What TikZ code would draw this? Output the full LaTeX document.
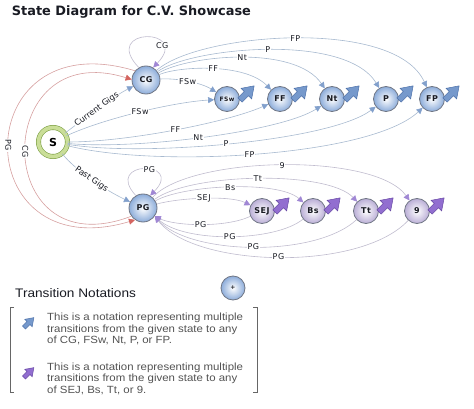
\documentclass[tikz,border=0pt]{standalone}
\usepackage{fontspec}
\setmainfont{DejaVu Sans}
\newfontfamily\lblfont[LetterSpace=6]{DejaVu Sans}
\newfontfamily\legfont[FakeStretch=1.1]{Liberation Sans}
\usetikzlibrary{arrows.meta,calc}
\definecolor{edgeblue}{RGB}{168,186,208}
\definecolor{tipblue}{RGB}{130,160,204}
\definecolor{edgepurp}{RGB}{192,188,206}
\definecolor{tippurp}{RGB}{160,135,212}
\definecolor{edgered}{RGB}{214,160,160}
\definecolor{tipred}{RGB}{212,100,95}
\definecolor{nodeblue}{RGB}{140,172,218}
\definecolor{nodepurp}{RGB}{186,174,214}
\definecolor{nodeline}{RGB}{112,118,132}
\definecolor{ringgreen}{RGB}{202,222,152}
\definecolor{darkgreen}{RGB}{125,160,70}
\definecolor{iconblue}{RGB}{118,153,204}
\definecolor{iconblueline}{RGB}{80,115,170}
\definecolor{iconpurp}{RGB}{146,110,208}
\definecolor{iconpurpline}{RGB}{105,75,165}
\definecolor{txt}{RGB}{25,27,35}
\tikzset{
  stbase/.style={circle, draw=nodeline, line width=0.8pt, inner sep=0pt,
    font=\lblfont\bfseries\fontsize{8}{9}\selectfont, text=txt},
  bstate/.style={stbase, inner color=white, outer color=nodeblue, minimum size=25pt},
  pstate/.style={stbase, inner color=white, outer color=nodepurp, minimum size=25pt},
  bigstate/.style={bstate, minimum size=28pt},
  snode/.style={circle, minimum size=29pt, inner sep=0pt, fill=white, draw=darkgreen,
    double=ringgreen, double distance=3.8pt, line width=0.6pt,
    font=\bfseries\fontsize{11}{12}\selectfont, text=black},
  lbl/.style={font=\lblfont\fontsize{8}{9}\selectfont, fill=white, inner sep=0.8pt, text=txt},
  slbl/.style={font=\fontsize{8.3}{9}\selectfont, fill=white, inner sep=0.8pt, text=txt, sloped},
  bedge/.style={draw=edgeblue, line width=0.6pt, -{Triangle[length=6pt,width=6pt,color=tipblue]}},
  pedge/.style={draw=edgepurp, line width=0.6pt, -{Triangle[length=6pt,width=6pt,color=tippurp]}},
  redge/.style={draw=edgered, line width=0.6pt, -{Triangle[length=6pt,width=6pt,color=tipred]}},
  fatarrow/.pic={\path[line width=0.5pt, pic actions] (0,-3)--(9,-3)--(9,-7.5)--(20,0)--(9,7.5)--(9,3)--(0,3)--cycle;},
  bicon/.style={rotate=45, fill=iconblue, draw=iconblueline},
  picon/.style={rotate=45, fill=iconpurp, draw=iconpurpline},
  legtext/.style={anchor=north west, inner sep=0pt, align=left, font=\legfont\fontsize{10.4}{11.8}\selectfont, text=black!68},
}
\begin{document}
\begin{tikzpicture}[x=1pt,y=-1pt]
\useasboundingbox (0,0) rectangle (474,409);
% title
\node[anchor=west, inner sep=0pt, font=\bfseries\fontsize{12.9}{14}\selectfont, text=txt] (title) at (11.7,12) {State Diagram for C.V. Showcase};
% states
\node[bigstate] (CG) at (146,80) {CG};
\node[bstate] (FSw) at (227,99) {\fontsize{6}{7}\selectfont FSw};
\node[bstate] (FF) at (280,99) {FF};
\node[bstate] (Nt) at (332,99) {Nt};
\node[bstate] (P) at (386,99) {P};
\node[bstate] (FP) at (432,99) {FP};
\node[snode] (S) at (53,142) {S};
\node[bigstate] (PG) at (143,208) {PG};
\node[pstate] (SEJ) at (262,211) {SEJ};
\node[pstate] (Bs) at (313,211) {Bs};
\node[pstate] (Tt) at (366,211) {Tt};
\node[pstate] (N9) at (417,211) {9};
\node[bstate, minimum size=24pt, font=\bfseries\fontsize{6}{7}\selectfont] (plus) at (233,288) {+};
% icons
\foreach \n in {FSw,FF,Nt,P,FP} { \pic[bicon] at ($(\n)+(13,1)$) {fatarrow}; }
\foreach \n in {SEJ,Bs,Tt,N9} { \pic[picon] at ($(\n)+(13,1)$) {fatarrow}; }
% S edges
\draw[bedge] (S) .. controls (80,122) and (112,97) .. (CG) node[slbl, pos=.5] {Current Gigs};
\draw[bedge] (S) .. controls (75,170) and (105,190) .. (PG) node[slbl, pos=.5] {Past Gigs};
\draw[bedge] (S) .. controls (105,118) and (175,102) .. (FSw) node[lbl, pos=.5] {FSw};
\draw[bedge] (S) .. controls (128,142) and (228,122) .. (FF) node[lbl, pos=.5] {FF};
\draw[bedge] (S) .. controls (135,150) and (280,132) .. (Nt) node[lbl, pos=.48] {Nt};
\draw[bedge] (S) .. controls (145,157) and (330,141) .. (P) node[lbl, pos=.48] {P};
\draw[bedge] (S) .. controls (155,168) and (370,157) .. (FP) node[lbl, pos=.48] {FP};
% CG edges
\draw[bedge] (CG) .. controls (175,78) and (200,82) .. (FSw) node[lbl, pos=.5] {FSw};
\draw[bedge] (CG) .. controls (180,66) and (245,63) .. (FF) node[lbl, pos=.5] {FF};
\draw[bedge] (CG) .. controls (190,55) and (295,45) .. (Nt) node[lbl, pos=.5] {Nt};
\draw[bedge] (CG) .. controls (190,48) and (345,32) .. (P) node[lbl, pos=.5] {P};
\draw[bedge] (CG) .. controls (198,33) and (395,17) .. (FP) node[lbl, pos=.5] {FP};
\draw[pedge] (CG.120) .. controls (100,27) and (192,27) .. (CG.60) node[lbl, pos=.76] {CG};
% red arcs
\draw[redge] (CG.140) .. controls (-34,20) and (-34,270) .. (PG.236) node[lbl, pos=.5, rotate=-90] {PG};
\draw[redge] (PG.215) .. controls (-10,270) and (-10,35) .. (CG.178) node[lbl, pos=.5, rotate=-90] {CG};
% PG edges
\draw[pedge] (PG.120) .. controls (103,160) and (185,160) .. (PG.60) node[lbl, pos=.58] {PG};
\draw[pedge] (PG) .. controls (178,198) and (230,195) .. (SEJ) node[lbl, pos=.5] {SEJ};
\draw[pedge] (PG) .. controls (183,185) and (278,180) .. (Bs) node[lbl, pos=.5] {Bs};
\draw[pedge] (PG) .. controls (190,173) and (327,170) .. (Tt) node[lbl, pos=.5] {Tt};
\draw[pedge] (PG) .. controls (190,156) and (375,152) .. (N9) node[lbl, pos=.5] {9};
\draw[pedge] (SEJ) .. controls (225,228) and (175,226) .. (PG.-35) node[lbl, pos=.5] {PG};
\draw[pedge] (Bs) .. controls (275,242) and (185,243) .. (PG.-35) node[lbl, pos=.5] {PG};
\draw[pedge] (Tt) .. controls (315,258) and (190,255) .. (PG.-35) node[lbl, pos=.5] {PG};
\draw[pedge] (N9) .. controls (360,272) and (195,268) .. (PG.-35) node[lbl, pos=.5] {PG};
% legend
\node[anchor=west, inner sep=0pt, font=\legfont\fontsize{12.4}{14}\selectfont, text=txt] (legtitle) at (15,293) {Transition Notations};
\draw[line width=0.6pt, draw=black!60] (14,307) -- (10,307) -- (10,392) -- (14,392);
\draw[line width=0.6pt, draw=black!60] (253,307) -- (257,307) -- (257,392) -- (253,392);
\pic[bicon, scale=0.7] at (24,327.5) {fatarrow};
\pic[picon, scale=0.7] at (24,377.5) {fatarrow};
\node[legtext] (leg1) at (47,312.6) {This is a notation representing multiple\\transitions from the given state to any\\of CG, FSw, Nt, P, or FP.};
\node[legtext] (leg2) at (47,362.3) {This is a notation representing multiple\\transitions from the given state to any\\of SEJ, Bs, Tt, or 9.};
\end{tikzpicture}
\end{document}
